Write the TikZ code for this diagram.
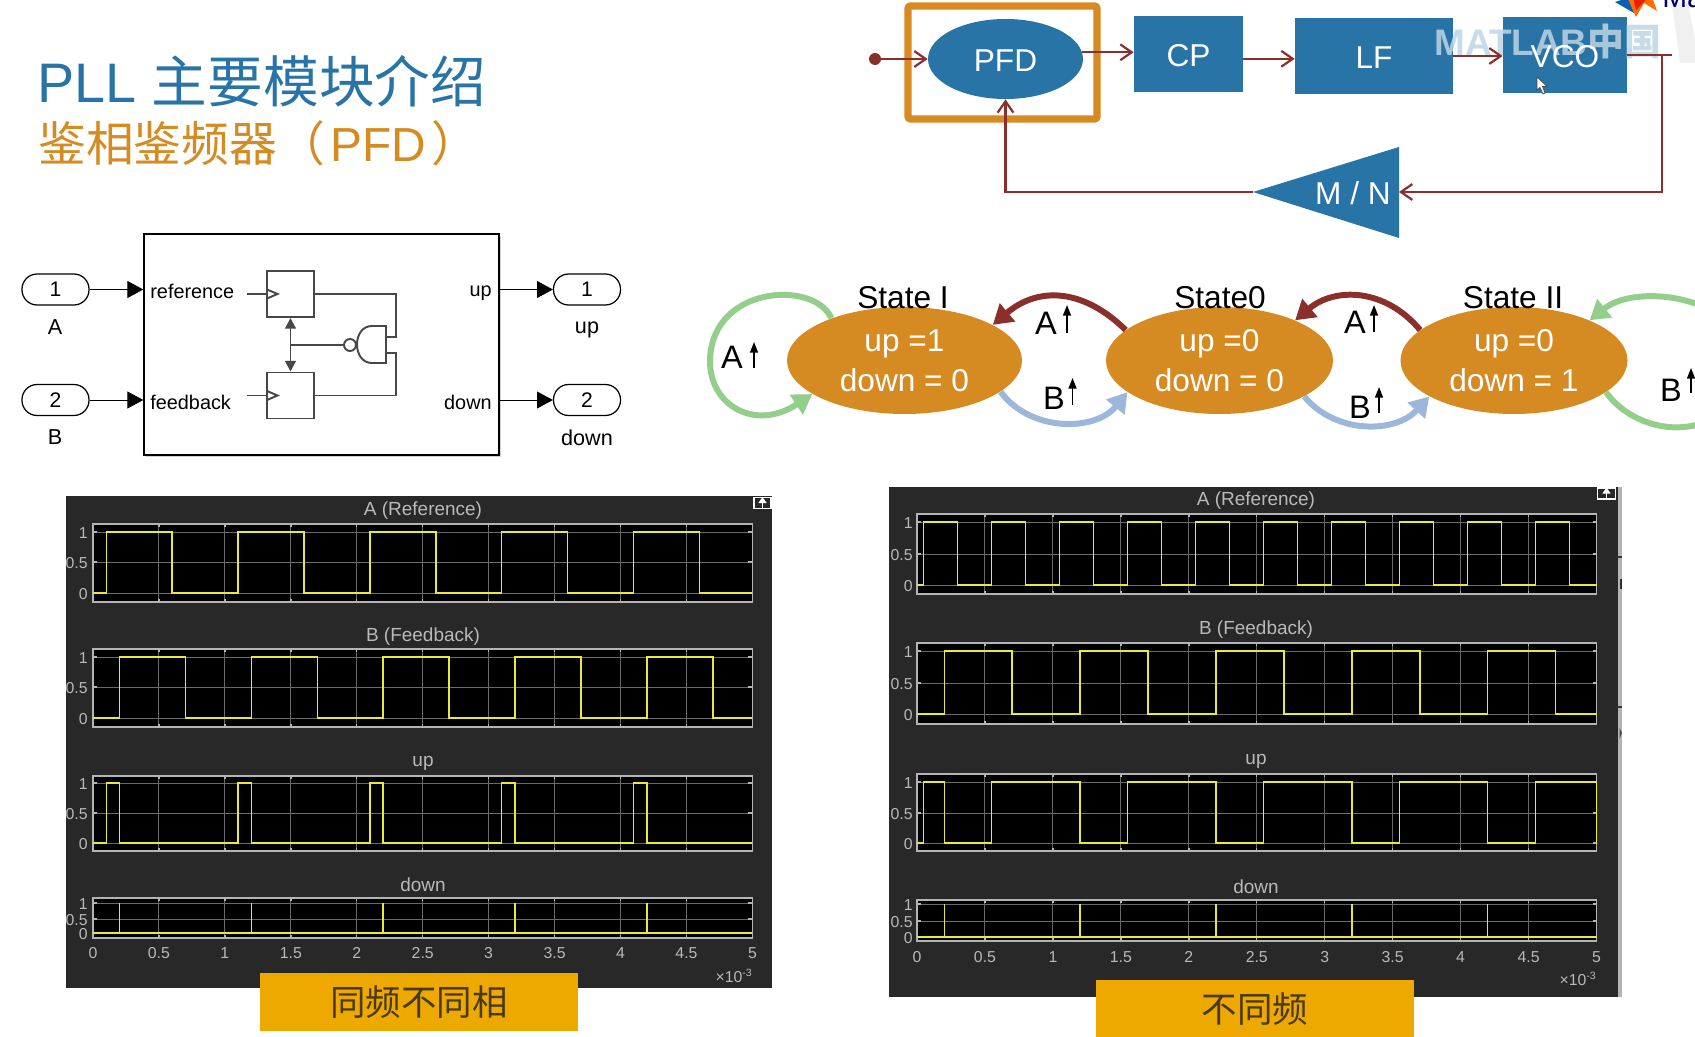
\documentclass[tikz,border=0pt]{standalone}
\usepackage{fontspec}
\setmainfont{Liberation Sans}
\newfontfamily\cjk{Noto Sans CJK SC}
\usetikzlibrary{arrows.meta,calc,positioning,shadows,shapes.geometric}

\definecolor{pllblue}{HTML}{2874A6}
\definecolor{pllorange}{HTML}{D58B22}
\definecolor{flowred}{HTML}{8B2F2C}
\definecolor{loopgreen}{HTML}{93CF8B}
\definecolor{loopblue}{HTML}{9DB7DA}
\definecolor{panelgrey}{HTML}{282828}
\definecolor{axisgrey}{HTML}{B4B4B4}
\definecolor{gridgrey}{HTML}{6A6A6A}
\definecolor{scopetext}{HTML}{B9B9B9}
\definecolor{traceyellow}{HTML}{E9E93C}
\definecolor{tagyellow}{HTML}{EDA900}
\definecolor{tagtext}{HTML}{4A3A12}

\newcommand\fsz[1]{\fontsize{#1}{#1}\selectfont}

\tikzset{
	sz/.style 2 args={minimum width=#1*0.02cm, minimum height=#2*0.02cm, inner sep=0pt},
	plltxt/.style={font=\fsz{18}, text height=14.1pt, text depth=0pt},
	pllbox/.style={rectangle, fill=pllblue, text=white, plltxt},
	blocktxt/.style={plltxt, text=white, inner sep=0pt},
	flow/.style={draw=flowred, line width=1.25pt},
	pill/.style={draw, fill=white, rounded corners=8.6pt, line width=.7pt, font=\fsz{12}, sz={67}{31}},
	simtxt/.style={font=\fsz{11.3}, inner sep=0pt},
	outertxt/.style={font=\fsz{12.3}, inner sep=0pt},
	wire/.style={draw, line width=.5pt, -{Triangle[length=9pt,width=9.6pt]}},
	logic/.style={draw=black!72, line width=1.1pt},
	state/.style={ellipse, fill=pllorange, text=white, align=center, font=\fsz{18}, sz={#1}{107}},
	statename/.style={plltxt, inner sep=0pt},
	greenarc/.style={draw=loopgreen, line width=3.4pt, -{Triangle[length=11pt,width=13pt]}},
	redarc/.style={draw=flowred, line width=3.4pt, -{Triangle[length=11pt,width=13pt]}},
	bluearc/.style={draw=loopblue, line width=3.4pt, -{Triangle[length=11pt,width=13pt]}},
	arclbl/.style={font=\fsz{18.5}, inner sep=0pt},
	uparr/.style={draw, line width=.8pt, -{Triangle[length=6pt,width=4.5pt]}},
	panel/.style={fill=panelgrey},
	plotframe/.style={draw=axisgrey, fill=black, line width=.8pt},
	griddraw/.style={draw=gridgrey, line width=.55pt},
	tickdraw/.style={draw=axisgrey, line width=.8pt},
	trace/.style={draw=traceyellow, line width=.75pt, line join=miter},
	scopelbl/.style={font=\fsz{10.8}, text=scopetext, inner sep=0pt, yshift=-.6pt},
	ticklbl/.style={font=\fsz{9}, text=scopetext, inner sep=0pt, yshift=-.5pt},
	tag/.style={fill=tagyellow, text=tagtext, font=\cjk\fsz{20.2}},
}

% id, x0, x1, ytop, ybot, y(1), y(0.5), y(0), label right edge
\newcommand\plotaxes[9]{
	\path[plotframe] (#2,#4) rectangle (#3,#5);
	\foreach \k in {1,...,9} {
		\draw[griddraw] ({#2+\k*(#3-#2)/10},#4) -- ({#2+\k*(#3-#2)/10},#5);
		\draw[tickdraw] ({#2+\k*(#3-#2)/10},#4) -- ({#2+\k*(#3-#2)/10},#4+3);
		\draw[tickdraw] ({#2+\k*(#3-#2)/10},#5) -- ({#2+\k*(#3-#2)/10},#5-3);
	}
	\foreach \yy/\lab/\tn in {#6/1/a,#7/0.5/b,#8/0/c} {
		\draw[griddraw] (#2,\yy) -- (#3,\yy);
		\draw[tickdraw] (#2,\yy) -- (#2+4,\yy);
		\draw[tickdraw] (#3,\yy) -- (#3-4,\yy);
		\node (#1\tn) at (#9,\yy) [ticklbl, anchor=east] {\lab};
	}
}
% x0, px per ms, y(1), y(0), x1, list
\newcommand\sigtrace[6]{
	\draw[trace] (#1,#4) \foreach \ton/\toff in {#6} {
		-- ({#1+\ton*#2},#4) -- ({#1+\ton*#2},#3) -- ({#1+\toff*#2},#3) -- ({#1+\toff*#2},#4)
	} -- (#5,#4);
}
% name, x, y, text, arrow x, arrow top, arrow bottom
\newcommand\edgelbl[7]{
	\node (#1) at (#2,#3) [arclbl] {#4};
	\coordinate (#1a) at (#5,#7);
	\coordinate (#1b) at (#5,#6);
	\draw[uparr] (#1a) -- (#1b);
}

\begin{document}
\begin{tikzpicture}[x=0.02cm,y=-0.02cm,>={Straight Barb[length=6.5pt,width=9pt]}]
	\clip (0,0) rectangle (1695,1037);
	\fill[white] (0,0) rectangle (1695,1037);

	% Titel
	\node (title) at (37,81) [anchor=west, inner sep=0pt, text=pllblue, font=\fsz{31.7}] {PLL {\cjk 主要模块介绍}};
	\node (subtitle) at (38,143) [anchor=west, inner sep=0pt, text=pllorange, font=\fsz{27.2}] {{\cjk 鉴相鉴频器（}\hspace{3pt}PFD\hspace{3pt}{\cjk ）}};

	% PLL Kette
	\node (frame) at (1002.5,62.5) [draw=pllorange, line width=4.2pt, rounded corners=1.5pt, sz={189}{113}] {};
	\node (pfd) at (1005.5,59) [ellipse, fill=pllblue, text=white, plltxt, sz={155}{80}] {PFD};
	\node (cp) at (1188.5,54) [pllbox, sz={109}{76}] {CP};
	\node (lf) at (1374,56) [pllbox, sz={158}{76}] {LF};
	\node (vco) at (1565,55) [pllbox, sz={124}{76}] {};
	\node (mark) at (1548,41) [anchor=center, inner sep=0pt, text=pllblue!30, opacity=.85, font=\bfseries\fsz{21}] {MATLAB{\cjk 中国}};
	\node (vcotxt) at (vco) [blocktxt] {VCO};
	\coordinate (mnapex) at (1253,192);
	\coordinate (mnbase) at (1399,192);
	\fill[pllblue] (mnapex) -- (1399,147) -- (1399,238) -- cycle;
	\node (mn) at (1353,192) [blocktxt] {M / N};

	\node (src) at (875,59) [circle, fill=flowred, sz={12}{12}] {};
	\coordinate (tap) at (1662,55);
	\coordinate (outend) at (1672,55);
	\coordinate (back) at (1005.5,192);
	\draw[flow,->] (src) -- (pfd.west);
	\draw[flow,->] (pfd.5) -- (pfd.5 -| cp.west);
	\draw[flow,->] (cp.-5) -- (cp.-5 -| lf.west);
	\draw[flow,->] (lf.east) -- (lf.east -| vco.west);
	\draw[flow] (vco.east) -- (outend);
	\draw[flow,->] (tap) |- (mnbase);
	\draw[flow,->] (mnapex) -- (back) -- (pfd.south);

	% Logo oben rechts
	\fill[black!6] (1672,3) -- (1688,3) -- (1695,40) -- (1695,63) -- (1680,63) -- cycle;
	\fill[blue!45!cyan!70!black] (1615,2) -- (1630,-3) -- (1634,13) -- cycle;
	\fill[orange!85!red] (1627,-3) -- (1652,-3) -- (1657,11) -- (1644,3) -- (1636,17) -- cycle;
	\fill[red!70!orange!90!black] (1633,-3) -- (1648,-3) -- (1643,3) -- (1636,10) -- cycle;
	\node (logotxt) at (1662,8) [anchor=base west, inner sep=0pt, text=blue!45!black, font=\fsz{17}] {Ma};

	% Mauszeiger
	\draw[black!70, fill=white, line width=.4pt] (1537,77) -- (1537,90) -- (1540,87.5) -- (1543,94) -- (1545,93) -- (1542.5,86.5) -- (1547,86.5) -- cycle;

	% Simulink Block
	\node (blk) at (321.5,344.5) [draw, fill=white, line width=.8pt, drop shadow={shadow xshift=1pt, shadow yshift=-1pt, opacity=.35}, sz={355}{221}] {};
	\node (in1) at (55.5,289.5) [pill] {1};
	\node (in2) at (55.5,400) [pill] {2};
	\node (out1) at (587,289.5) [pill] {1};
	\node (out2) at (587,400) [pill] {2};
	\node (lblA) at (55,327) [outertxt] {A};
	\node (lblB) at (55,437) [outertxt] {B};
	\node (lblup) at (587,330) [outertxt] {up};
	\node (lbldown) at (587,438) [outertxt] {down};
	\node (refp) at (150,291) [simtxt, anchor=west] {reference};
	\node (fbp) at (150,402) [simtxt, anchor=west] {feedback};
	\node (upp) at (492,293) [simtxt, anchor=east] {up};
	\node (downp) at (492,402) [simtxt, anchor=east] {down};
	\draw[wire] (in1) -- (in1 -| blk.west);
	\draw[wire] (in2) -- (in2 -| blk.west);
	\draw[wire] (out1 -| blk.east) -- (out1.west);
	\draw[wire] (out2 -| blk.east) -- (out2.west);

	% Flipflops + NAND
	\node (ffA) at (290.5,294) [draw=black!72, line width=1.1pt, sz={47}{46}] {};
	\node (ffB) at (290.5,395.5) [draw=black!72, line width=1.1pt, sz={47}{46}] {};
	\coordinate (clkA) at (247,294);
	\coordinate (clkB) at (247,395.5);
	\coordinate (nandT) at (386,337);
	\coordinate (nandB) at (386,353);
	\coordinate (busR) at (396,345);
	\coordinate (ctl) at (290.5,345);
	\draw[logic] (clkA) -- (ffA.west);
	\draw[logic] (clkB) -- (ffB.west);
	\draw[logic] (267,289.5) -- (277.5,294) -- (267,298.5);
	\draw[logic] (267,391) -- (277.5,395.5) -- (267,400);
	\draw[logic] (386,326) -- (372,326) .. controls (352,326) and (352,363) .. (372,363) -- (386,363) -- cycle;
	\node (bub) at (350,345) [circle, draw=black!72, line width=1.1pt, sz={12}{12}] {};
	\draw[logic] (ffA.east) -| (busR |- nandT) -- (nandT);
	\draw[logic] (ffB.east) -| (busR |- nandB) -- (nandB);
	\draw[logic] (bub.west) -- (ctl);
	\draw[logic, {Triangle[length=6pt,width=6pt]}-{Triangle[length=6pt,width=6pt]}] (ffA.south) -- (ffB.north);

	% Zustaende
	\node (st1) at (904.5,360.5) [state=235] {up =1\\[4.8pt]down = 0};
	\node (st0) at (1219.5,360.5) [state=227] {up =0\\[4.8pt]down = 0};
	\node (st2) at (1514,360.5) [state=227] {up =0\\[4.8pt]down = 1};
	\node (st1n) at (903,296) [statename] {State I};
	\node (st0n) at (1220,296) [statename] {State0};
	\node (st2n) at (1513,296) [statename] {State II};

	\draw[greenarc] (st1.150) .. controls (815,280) and (712,285) .. (710,360) .. controls (709,405) and (755,432) .. (st1.200);
	\draw[redarc] (st0.162) .. controls (1085,290) and (1040,285) .. (st1.22);
	\draw[redarc] (st2.162) .. controls (1385,288) and (1335,287) .. (st0.28);
	\draw[bluearc] (st1.-18) .. controls (1030,432) and (1095,432) .. (st0.199);
	\draw[bluearc] (st0.-23) .. controls (1335,434) and (1395,434) .. (st2.203);
	\draw[greenarc] (st2.-19) .. controls (1640,440) and (1730,445) .. (1745,370) .. controls (1755,300) and (1640,280) .. (st2.28);

	\edgelbl{lblAl}{732}{357}{A}{754}{342}{368}
	\edgelbl{lblAa}{1046}{323}{A}{1067}{305}{333}
	\edgelbl{lblBa}{1054}{398}{B}{1072.5}{378}{405}
	\edgelbl{lblAb}{1355}{322}{A}{1374}{305}{332}
	\edgelbl{lblBb}{1360}{407}{B}{1379}{387}{413}
	\edgelbl{lblBr}{1671}{390}{B}{1691}{368}{393}

	% Scope links
	\fill[panel] (66,496) rectangle (772,988);
	\plotaxes{la}{93}{752.4}{524}{602}{532}{562}{593}{88}
	\plotaxes{lb}{93}{752.4}{649}{727}{657}{687}{718}{88}
	\plotaxes{lc}{93}{752.4}{776}{851}{783}{813}{843}{88}
	\plotaxes{ld}{93}{752.4}{898}{938}{903}{919}{933}{88}
	\sigtrace{93}{131.88}{532}{593}{752.4}{.1/.6,1.1/1.6,2.1/2.6,3.1/3.6,4.1/4.6}
	\sigtrace{93}{131.88}{657}{718}{752.4}{.2/.7,1.2/1.7,2.2/2.7,3.2/3.7,4.2/4.7}
	\sigtrace{93}{131.88}{783}{843}{752.4}{.1/.2,1.1/1.2,2.1/2.2,3.1/3.2,4.1/4.2}
	\sigtrace{93}{131.88}{903}{933}{752.4}{.2/.2,1.2/1.2,2.2/2.2,3.2/3.2,4.2/4.2}
	\node (lta) at (423,510) [scopelbl] {A (Reference)};
	\node (ltb) at (423,636) [scopelbl] {B (Feedback)};
	\node (ltc) at (423,762) [scopelbl] {up};
	\node (ltd) at (423,884) [scopelbl] {down};
	\foreach \k/\lab in {0/0,1/0.5,2/1,3/1.5,4/2,5/2.5,6/3,7/3.5,8/4,9/4.5,10/5}
		\node (lx\k) at ({93+\k*65.94},952) [ticklbl] {\lab};
	\node (lexp) at (753,975) [ticklbl, anchor=east] {×10\textsuperscript{-3}};
	\node (lic) at (762.5,503) [draw=white, line width=.7pt, sz={17}{11}] {};
	\draw[white, line width=.8pt, -{Triangle[length=3.5pt,width=4.5pt]}] (lic.south) -- (lic.north);
	\node (ltag) at (419,1002) [tag, sz={318}{58}] {同频不同相};

	% Scope rechts
	\fill[panel] (889,487) rectangle (1620,997);
	\fill[axisgrey] (1618,487) rectangle (1622,997);
	\fill[black!80] (1617,556) rectangle (1622,557.5);
	\fill[black!80] (1619.5,579) rectangle (1622,589);
	\fill[black!80] (1617,706) rectangle (1622,707.5);
	\fill[black!70] (1619.5,728) -- (1622,733) -- (1619.5,739) -- cycle;
	\plotaxes{ra}{917}{1596.5}{514}{594}{522}{554}{585}{913}
	\plotaxes{rb}{917}{1596.5}{643}{724}{651}{683}{714}{913}
	\plotaxes{rc}{917}{1596.5}{774}{851}{782}{813}{843}{913}
	\plotaxes{rd}{917}{1596.5}{900}{941}{904}{921}{937}{913}
	\sigtrace{917}{135.9}{522}{585}{1596.5}{.05/.3,.55/.8,1.05/1.3,1.55/1.8,2.05/2.3,2.55/2.8,3.05/3.3,3.55/3.8,4.05/4.3,4.55/4.8}
	\sigtrace{917}{135.9}{651}{714}{1596.5}{.2/.7,1.2/1.7,2.2/2.7,3.2/3.7,4.2/4.7}
	\sigtrace{917}{135.9}{782}{843}{1596.5}{.05/.2,.55/1.2,1.55/2.2,2.55/3.2,3.55/4.2,4.55/5}
	\sigtrace{917}{135.9}{904}{937}{1596.5}{.2/.2,1.2/1.2,2.2/2.2,3.2/3.2,4.2/4.2}
	\node (rta) at (1256,500) [scopelbl] {A (Reference)};
	\node (rtb) at (1256,629) [scopelbl] {B (Feedback)};
	\node (rtc) at (1256,760) [scopelbl] {up};
	\node (rtd) at (1256,886) [scopelbl] {down};
	\foreach \k/\lab in {0/0,1/0.5,2/1,3/1.5,4/2,5/2.5,6/3,7/3.5,8/4,9/4.5,10/5}
		\node (rx\k) at ({917+\k*67.95},956) [ticklbl] {\lab};
	\node (rexp) at (1597,978) [ticklbl, anchor=east] {×10\textsuperscript{-3}};
	\node (ric) at (1606.5,493.5) [draw=white, line width=.7pt, sz={18}{11}] {};
	\draw[white, line width=.8pt, -{Triangle[length=3.5pt,width=4.5pt]}] (ric.south) -- (ric.north);
	\node (rtag) at (1255,1009) [tag, sz={318}{58}] {不同频};
\end{tikzpicture}
\end{document}
